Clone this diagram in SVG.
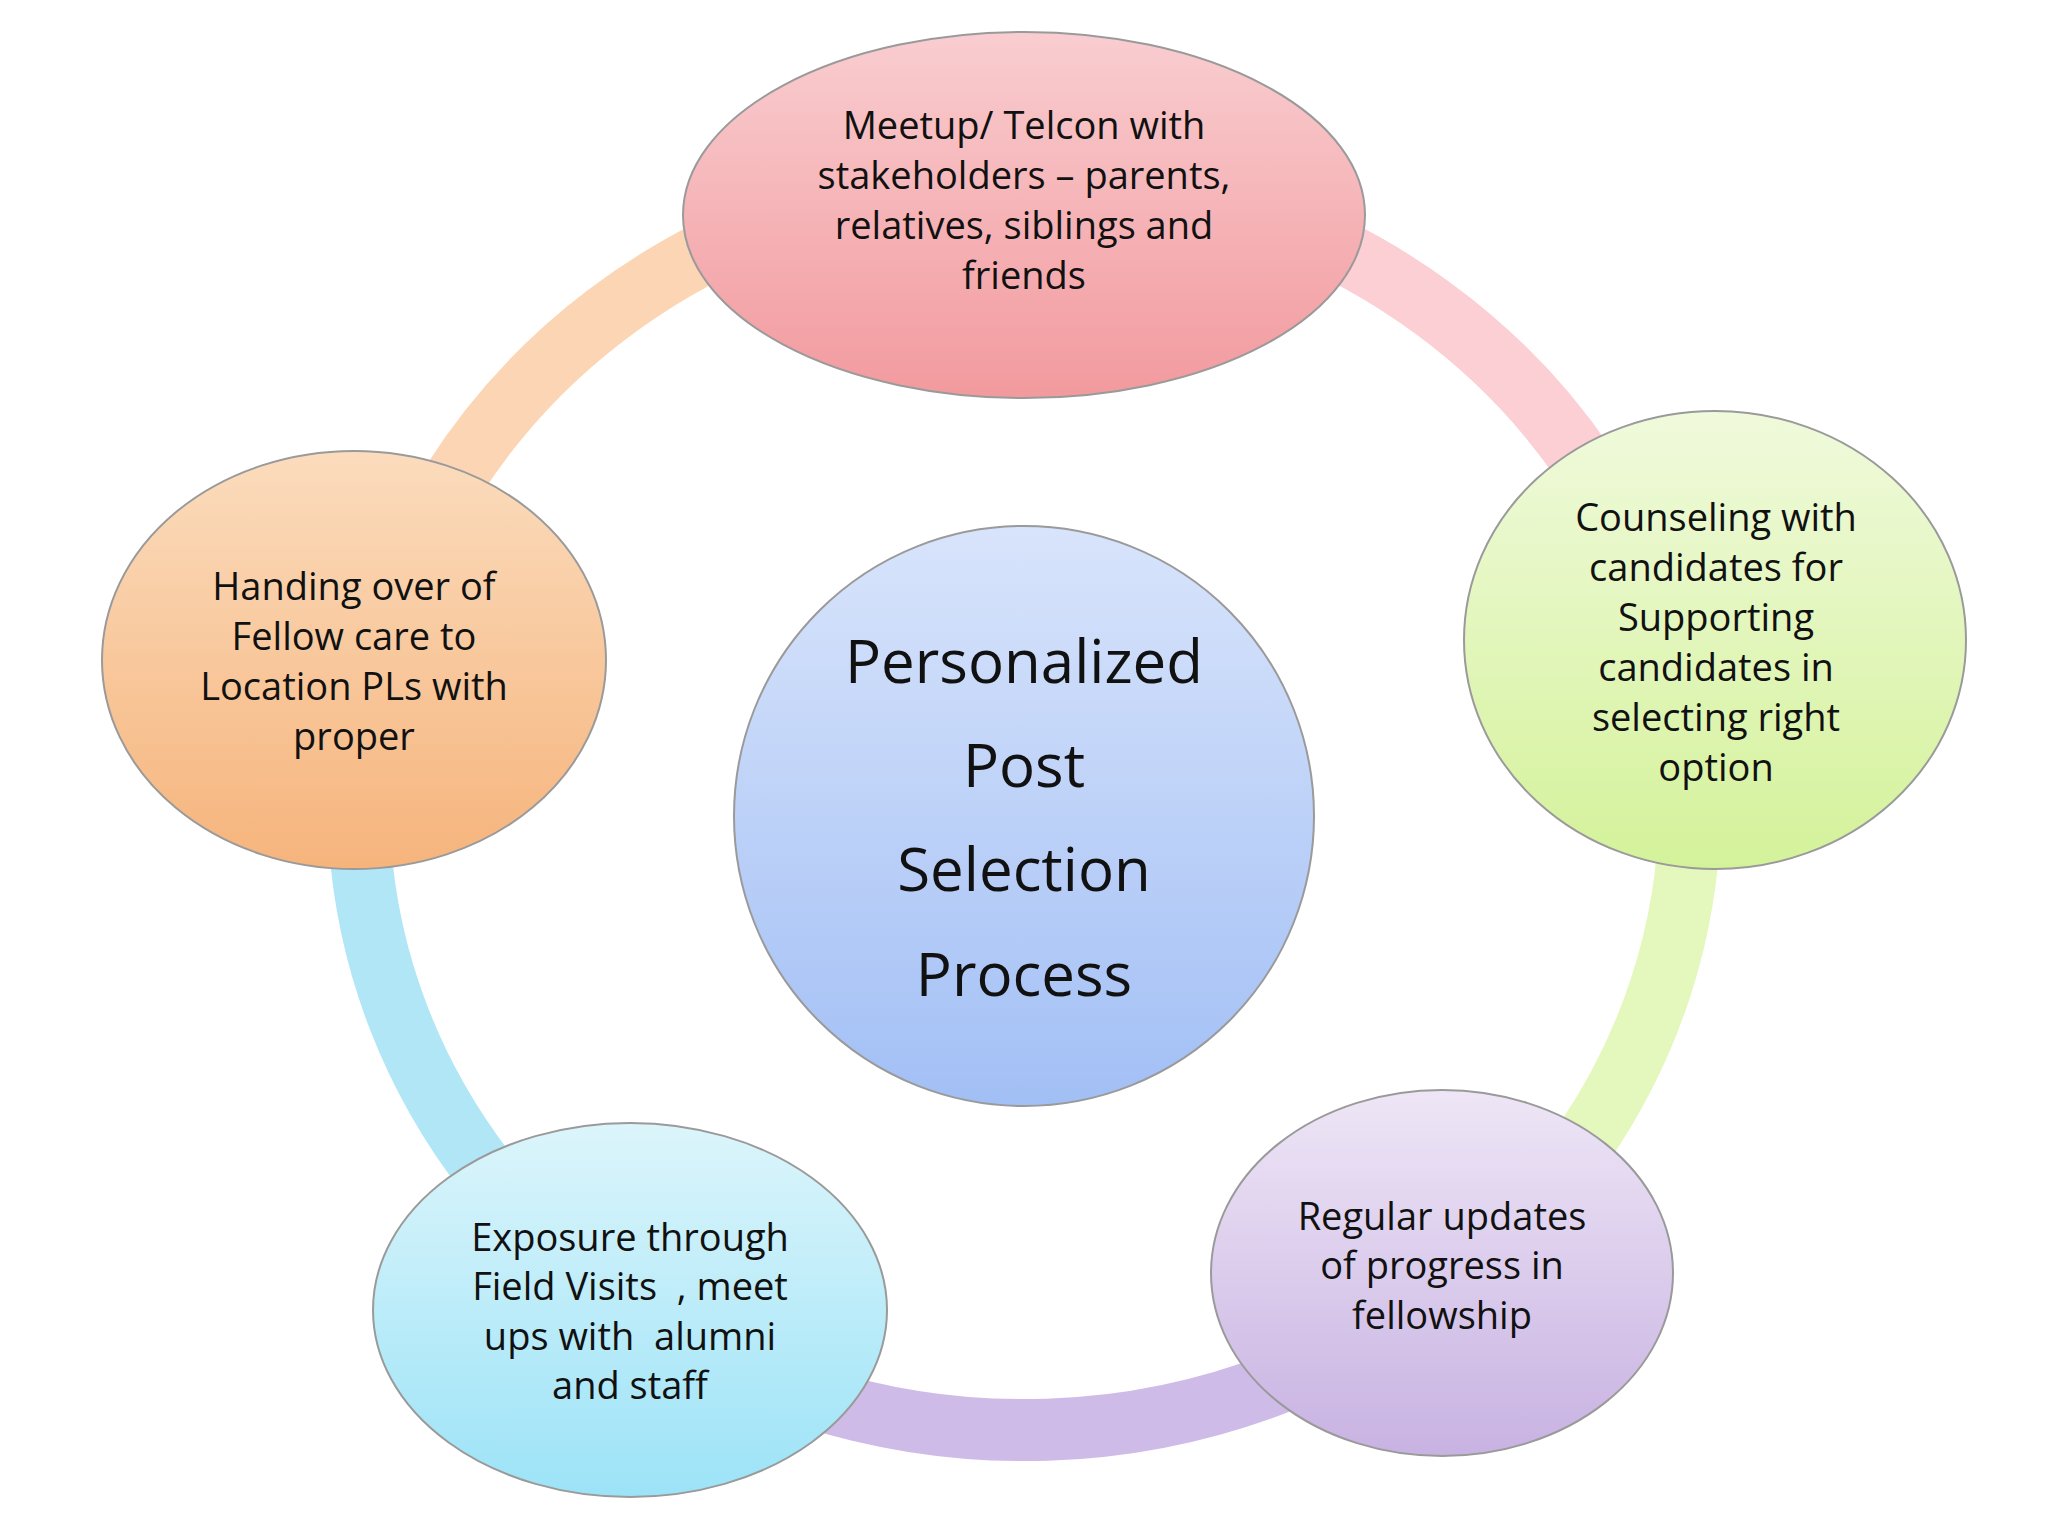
<svg xmlns="http://www.w3.org/2000/svg" width="2048" height="1536" viewBox="0 0 2048 1536">
<defs>
<linearGradient id="gTop" x1="0" y1="0" x2="0" y2="1"><stop offset="0" stop-color="#f9cdd0"/><stop offset="1" stop-color="#f29a9e"/></linearGradient>
<linearGradient id="gRight" x1="0" y1="0" x2="0" y2="1"><stop offset="0" stop-color="#f0fadc"/><stop offset="1" stop-color="#d4f29a"/></linearGradient>
<linearGradient id="gBR" x1="0" y1="0" x2="0" y2="1"><stop offset="0" stop-color="#eee6f6"/><stop offset="1" stop-color="#c8b2e2"/></linearGradient>
<linearGradient id="gBL" x1="0" y1="0" x2="0" y2="1"><stop offset="0" stop-color="#dcf5fb"/><stop offset="1" stop-color="#9ce3f7"/></linearGradient>
<linearGradient id="gLeft" x1="0" y1="0" x2="0" y2="1"><stop offset="0" stop-color="#fbdcbd"/><stop offset="1" stop-color="#f6b47c"/></linearGradient>
<linearGradient id="gC" x1="0" y1="0" x2="0" y2="1"><stop offset="0" stop-color="#d8e4fb"/><stop offset="1" stop-color="#a2bff5"/></linearGradient>
</defs>
<style>
.n{stroke:#9a9a9a;stroke-width:2}
.t{font-family:"Open Sans","Liberation Sans",sans-serif;font-size:38px;fill:#111;text-anchor:middle;dominant-baseline:central}
.c{font-size:60px}
.r{fill:none;stroke-width:62}
</style>
<rect width="2048" height="1536" fill="#fff"/>
<g id="connectors">
<path class="r" stroke="#fbcfd4" d="M1024,176 A666,627 0 0 1 1670,651"/>
<path class="r" stroke="#e4f7bd" d="M1670,651 A666,627 0 0 1 1470,1269"/>
<path class="r" stroke="#cfbbe8" d="M1470,1269 A666,627 0 0 1 614,1297"/>
<path class="r" stroke="#b0e6f6" d="M614,1297 A666,627 0 0 1 373,673"/>
<path class="r" stroke="#fcd6b4" d="M373,673 A666,627 0 0 1 1024,176"/>
</g>
<g id="center"><circle class="n" cx="1024" cy="816" r="290" fill="url(#gC)"/>
<text class="t c" x="1024" y="660">Personalized</text><text class="t c" x="1024" y="764">Post</text><text class="t c" x="1024" y="868">Selection</text><text class="t c" x="1024" y="973">Process</text></g>
<g id="top"><ellipse class="n" cx="1024" cy="215" rx="341" ry="183" fill="url(#gTop)"/>
<text class="t" x="1024" y="124">Meetup/ Telcon with</text><text class="t" x="1024" y="174">stakeholders – parents,</text><text class="t" x="1024" y="224">relatives, siblings and</text><text class="t" x="1024" y="274">friends</text></g>
<g id="right"><ellipse class="n" cx="1715" cy="640" rx="251" ry="229" fill="url(#gRight)"/>
<text class="t" x="1716" y="516">Counseling with</text><text class="t" x="1716" y="566">candidates for</text><text class="t" x="1716" y="616">Supporting</text><text class="t" x="1716" y="666">candidates in</text><text class="t" x="1716" y="716">selecting right</text><text class="t" x="1716" y="766">option</text></g>
<g id="bottomright"><ellipse class="n" cx="1442" cy="1273" rx="231" ry="183" fill="url(#gBR)"/>
<text class="t" x="1442" y="1215">Regular updates</text><text class="t" x="1442" y="1264">of progress in</text><text class="t" x="1442" y="1314">fellowship</text></g>
<g id="bottomleft"><ellipse class="n" cx="630" cy="1310" rx="257" ry="187" fill="url(#gBL)"/>
<text class="t" x="630" y="1236">Exposure through</text><text class="t" x="630" y="1285" xml:space="preserve">Field Visits  , meet</text><text class="t" x="630" y="1335" xml:space="preserve">ups with  alumni</text><text class="t" x="630" y="1384">and staff</text></g>
<g id="left"><ellipse class="n" cx="354" cy="660" rx="252" ry="209" fill="url(#gLeft)"/>
<text class="t" x="354" y="585">Handing over of</text><text class="t" x="354" y="635">Fellow care to</text><text class="t" x="354" y="685">Location PLs with</text><text class="t" x="354" y="735">proper</text></g>
</svg>
